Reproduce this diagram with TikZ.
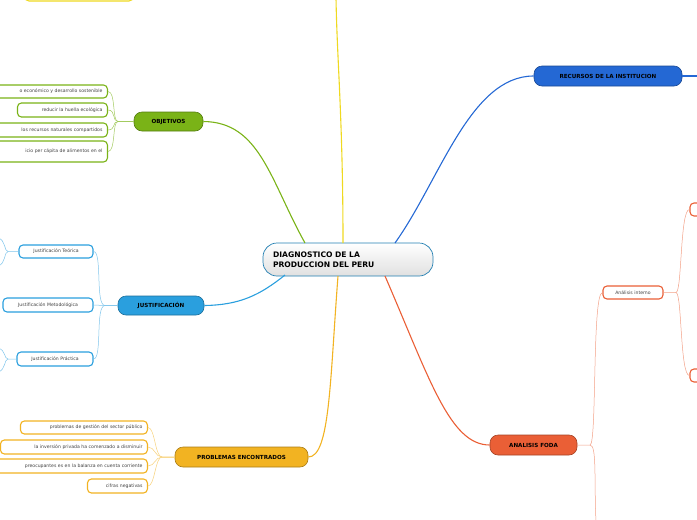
\documentclass[tikz,border=0pt]{standalone}
\usepackage{fontspec}
\setmainfont{DejaVu Sans}
\begin{document}
\begin{tikzpicture}[x=1pt,y=-1pt,
 main/.style={draw=#1!70!black, fill=#1, rounded corners=8pt, line width=0.6pt, font=\fontsize{5.6}{6}\selectfont\bfseries, inner sep=0pt},
 leaf/.style={draw=#1, fill=white, rounded corners=4pt, line width=1.1pt, font=\fontsize{4.6}{5.5}\selectfont, text=black!75, inner sep=0pt, align=right},
 conn/.style={draw=#1, line width=1.1pt},
 thin/.style={draw=#1, line width=0.5pt}]
\definecolor{cg}{HTML}{7AB317}
\definecolor{cb}{HTML}{2A9FDE}
\definecolor{cdb}{HTML}{2468D4}
\definecolor{co}{HTML}{F2B322}
\definecolor{cr}{HTML}{EA5F36}
\definecolor{cy}{HTML}{EFD920}
\useasboundingbox (0,0) rectangle (697,520);
% central
\node[draw=cb!80!black, line width=0.7pt, rounded corners=14pt, top color=white, bottom color=black!12, minimum width=170pt, minimum height=33pt, font=\fontsize{7.6}{10}\selectfont\bfseries, align=left, text width=150pt, inner sep=0pt] (c) at (348,259.5) {DIAGNOSTICO DE LA\\PRODUCCION DEL PERU};
% main topics
\node[main=cdb, minimum width=148pt, minimum height=20pt] (rec) at (608,76) {RECURSOS DE LA INSTITUCION};
\node[main=cg, minimum width=69pt, minimum height=19pt] (obj) at (168.5,121.5) {OBJETIVOS};
\node[main=cb, minimum width=86pt, minimum height=19pt] (jus) at (161,305.5) {JUSTIFICACIÓN};
\node[main=co, minimum width=133pt, minimum height=20pt] (pro) at (241.5,457) {PROBLEMAS ENCONTRADOS};
\node[main=cr, minimum width=87pt, minimum height=20pt] (fod) at (533.5,445) {ANALISIS FODA};
% main connectors
\coordinate (ytop) at (336,-2);
\draw[conn=cy] (343,243) .. controls (343,120) and (337,60) .. (ytop);
\draw[conn=cdb] (395,243) .. controls (440,180) and (470,76) .. (rec.west);
\draw[conn=cg] (305,243) .. controls (270,180) and (260,122) .. (obj.east);
\draw[conn=cb] (285,275) .. controls (260,295) and (240,305) .. (jus.east);
\draw[conn=co] (338,276) .. controls (330,380) and (330,457) .. (pro.east);
\draw[conn=cr] (385,276) .. controls (430,380) and (450,445) .. (fod.west);
\coordinate (recr) at (699,76);
\draw[conn=cdb] (rec.east) -- (recr);
% top-left yellow box
\node[leaf=cy, minimum width=108pt, minimum height=8pt] (ytl) at (79,-3) {};
% objetivos leaves
\node[leaf=cg, anchor=east, text width=160pt, minimum height=13pt, inner xsep=5pt] (o1) at (108,91.5) {o económico y desarrollo sostenible};
\node[leaf=cg, anchor=east, minimum width=90pt, minimum height=14pt, inner xsep=5pt, text width=80pt] (o2) at (108,110) {reducir la huella ecológica};
\node[leaf=cg, anchor=east, text width=160pt, minimum height=14pt, inner xsep=5pt] (o3) at (108,130) {los recursos naturales compartidos};
\node[leaf=cg, anchor=east, text width=160pt, minimum height=21pt, inner xsep=5pt] (o4) at (108,151.5) {icio per cápita de alimentos en el\\[6pt]};
\foreach \n in {o1,o2,o3,o4}
 \draw[thin=cg!70] (obj.west) -- (118,121.5) .. controls (112,121.5) and ([xshift=8pt]\n.east) .. (\n.east);
% justificacion leaves
\node[leaf=cb, minimum width=74pt, minimum height=13pt, align=center] (j1) at (56,251.5) {Justificación Teórica};
\node[leaf=cb, minimum width=90pt, minimum height=14pt, align=center] (j2) at (48,305) {Justificación Metodológica};
\node[leaf=cb, minimum width=76pt, minimum height=14pt, align=center] (j3) at (55,359) {Justificación Práctica};
\foreach \n in {j1,j2,j3}
 \draw[thin=cb!60] (jus.west) -- (105,305.5) .. controls (95,305.5) and ([xshift=9pt]\n.east) .. (\n.east);
\coordinate (j1a) at (-2,238); \coordinate (j1b) at (-2,266);
\coordinate (j3a) at (-2,348); \coordinate (j3b) at (-2,372);
\draw[thin=cb!60] (j1.west) -- (8,251.5) .. controls (4,251.5) and (6,240) .. (j1a);
\draw[thin=cb!60] (8,251.5) .. controls (4,251.5) and (6,264) .. (j1b);
\draw[thin=cb!60] (j3.west) -- (8,359) .. controls (4,359) and (6,350) .. (j3a);
\draw[thin=cb!60] (8,359) .. controls (4,359) and (6,370) .. (j3b);
% problemas leaves
\node[leaf=co, anchor=east, minimum width=127pt, minimum height=13pt, inner xsep=5pt, text width=117pt] (p1) at (148,427.5) {problemas de gestión del sector público};
\node[leaf=co, anchor=east, minimum width=147pt, minimum height=14pt, inner xsep=5pt, text width=137pt] (p2) at (148,447) {la inversión privada ha comenzado a disminuir};
\node[leaf=co, anchor=east, text width=170pt, minimum height=14pt, inner xsep=5pt] (p3) at (148,466) {preocupantes es en la balanza en cuenta corriente};
\node[leaf=co, anchor=east, minimum width=60pt, minimum height=14pt, inner xsep=5pt, text width=50pt] (p4) at (148,486) {cifras negativas};
\foreach \n in {p1,p2,p3,p4}
 \draw[thin=co!60] (pro.west) -- (162,457) .. controls (155,457) and ([xshift=7pt]\n.east) .. (\n.east);
% FODA
\node[leaf=cr, minimum width=60pt, minimum height=13pt, align=center] (ai) at (633,292.5) {Análisis interno};
\draw[thin=cr!60] (fod.east) -- (590,445) .. controls (597,445) and (592,292.5) .. (ai.west);
\coordinate (fdn) at (596,522);
\draw[thin=cr!60] (590,445) .. controls (597,445) and (594,480) .. (fdn);
\node[leaf=cr, minimum width=20pt, minimum height=13pt] (f1) at (700,209.5) {};
\node[leaf=cr, minimum width=20pt, minimum height=13pt] (f2) at (700,375.5) {};
\draw[thin=cr!60] (ai.east) -- (676,292.5) .. controls (682,292.5) and (680,209.5) .. (f1.west);
\draw[thin=cr!60] (676,292.5) .. controls (682,292.5) and (680,375.5) .. (f2.west);
\end{tikzpicture}
\end{document}
